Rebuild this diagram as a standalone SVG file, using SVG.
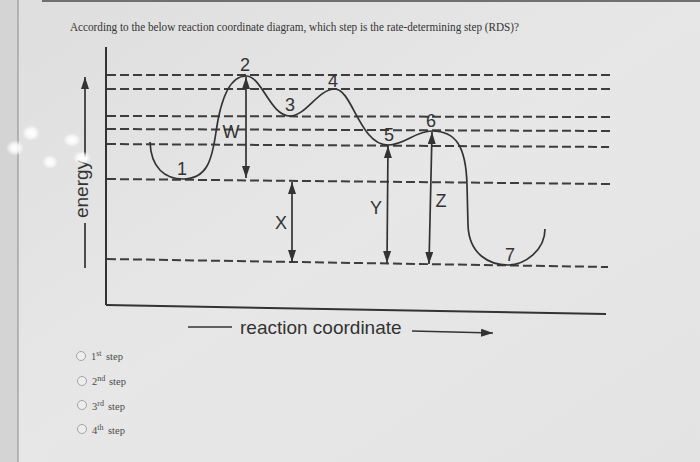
<svg xmlns="http://www.w3.org/2000/svg" width="700" height="462" viewBox="0 0 700 462">
<defs>
<linearGradient id="bg" x1="0" y1="0" x2="1" y2="1">
<stop offset="0" stop-color="#dedede"/>
<stop offset="0.5" stop-color="#e7e7e7"/>
<stop offset="1" stop-color="#e3e3e3"/>
</linearGradient>
<radialGradient id="glare">
<stop offset="0" stop-color="#ffffff" stop-opacity="1"/>
<stop offset="0.5" stop-color="#ffffff" stop-opacity="0.8"/>
<stop offset="1" stop-color="#ffffff" stop-opacity="0"/>
</radialGradient>
<marker id="ah" viewBox="0 0 12 8" refX="12" refY="4" markerWidth="12" markerHeight="8" markerUnits="userSpaceOnUse" orient="auto-start-reverse">
<path d="M0,0 L12,4 L0,8 z" fill="#333"/>
</marker>
<style>
.dash{stroke:#3d3d3d;stroke-width:2;stroke-dasharray:9 4;fill:none}
.ln{stroke:#333;stroke-width:1.7;fill:none}
.lbl{font-family:"Liberation Sans",Arial,sans-serif;font-size:18px;fill:#333;text-anchor:middle}
.opt{font-family:"Liberation Serif","Times New Roman",serif;font-size:10.5px;fill:#4a4a4a}
.sup{font-size:8px}
.radio{fill:#eeeeee;stroke:#a5a5a5;stroke-width:1}
</style>
</defs>
<rect x="0" y="0" width="700" height="462" fill="url(#bg)"/>
<rect x="0" y="0" width="18" height="462" fill="#d4d4d4"/>
<line x1="18" y1="0" x2="18" y2="462" stroke="#8a8a8a" stroke-width="1"/>
<rect x="42" y="0" width="658" height="2" fill="#707070"/>

<text x="70" y="31" font-family="'Liberation Serif','Times New Roman',serif" font-size="12" fill="#333" textLength="449" lengthAdjust="spacingAndGlyphs">According to the below reaction coordinate diagram, which step is the rate-determining step (RDS)?</text>

<g id="frame">
<line x1="106" y1="47" x2="106" y2="305" stroke="#333" stroke-width="2"/>
<line x1="106" y1="305" x2="606" y2="314" stroke="#333" stroke-width="2"/>
</g>

<g id="levels">
<line class="dash" x1="107" y1="75" x2="612" y2="75"/>
<line class="dash" x1="107" y1="89" x2="612" y2="89"/>
<line class="dash" x1="107" y1="116" x2="611" y2="117"/>
<line class="dash" x1="107" y1="129" x2="611" y2="131"/>
<line class="dash" x1="107" y1="144" x2="609" y2="147"/>
<line class="dash" x1="107" y1="179" x2="610" y2="184"/>
<line class="dash" x1="107" y1="259" x2="608" y2="267"/>
</g>

<g id="curve">
<path class="ln" stroke-width="2.1" d="M150,142 C151,168 165,179 183,179 C207,179 212,160 216,132 C220,104 228,76 246,76 C262,76 270,116 290,116 C306,116 318,89 335,89 C352,89 360,145 388,145 C405,145 415,131 432,131 C455,131 466,145 467,185 L468,225 C469,255 490,265 508,265 C525,265 545,250 545,229"/>
</g>

<g id="connectors">
<line class="ln" x1="246" y1="77" x2="246" y2="178" marker-start="url(#ah)" marker-end="url(#ah)"/>
<line class="ln" x1="292" y1="182" x2="292" y2="262" marker-start="url(#ah)" marker-end="url(#ah)"/>
<line class="ln" x1="388" y1="146" x2="387" y2="263" marker-start="url(#ah)" marker-end="url(#ah)"/>
<line class="ln" x1="432" y1="132" x2="429" y2="264" marker-start="url(#ah)" marker-end="url(#ah)"/>
</g>

<g id="point-labels">
<text class="lbl" x="182" y="175">1</text>
<text class="lbl" x="245" y="71">2</text>
<text class="lbl" x="290" y="111">3</text>
<text class="lbl" x="333" y="87">4</text>
<text class="lbl" x="389" y="141">5</text>
<text class="lbl" x="431" y="127">6</text>
<text class="lbl" x="510" y="261">7</text>
</g>

<g id="gap-labels">
<text class="lbl" x="231" y="138">W</text>
<text class="lbl" x="281" y="229">X</text>
<text class="lbl" x="376" y="214">Y</text>
<text class="lbl" x="441" y="207">Z</text>
</g>

<g id="energy-axis">
<line class="ln" x1="85" y1="157" x2="85" y2="77" marker-end="url(#ah)"/>
<line class="ln" x1="85" y1="223" x2="85" y2="268"/>
<text transform="translate(88,189) rotate(-90)" font-family="'Liberation Sans',Arial,sans-serif" font-size="19" fill="#333" text-anchor="middle">energy</text>
</g>

<g id="rc-axis">
<line class="ln" x1="188" y1="327" x2="232" y2="327"/>
<text x="240" y="334" font-family="'Liberation Sans',Arial,sans-serif" font-size="19" fill="#333">reaction coordinate</text>
<line class="ln" x1="412" y1="331" x2="493" y2="333" marker-end="url(#ah)"/>
</g>

<g id="options">
<circle class="radio" cx="81" cy="356" r="4.5"/>
<text class="opt" x="91" y="360">1<tspan class="sup" dy="-4">st</tspan><tspan x="106" dy="4">step</tspan></text>
<circle class="radio" cx="82" cy="381" r="4.5"/>
<text class="opt" x="92" y="385">2<tspan class="sup" dy="-4">nd</tspan><tspan x="109" dy="4">step</tspan></text>
<circle class="radio" cx="82" cy="405" r="4.5"/>
<text class="opt" x="92" y="410">3<tspan class="sup" dy="-4">rd</tspan><tspan x="108" dy="4">step</tspan></text>
<circle class="radio" cx="82" cy="429" r="4.5"/>
<text class="opt" x="92" y="434">4<tspan class="sup" dy="-4">th</tspan><tspan x="108" dy="4">step</tspan></text>
</g>

<g id="glare-spots">
<ellipse cx="31" cy="133" rx="9" ry="8" fill="url(#glare)"/>
<ellipse cx="15" cy="148" rx="9" ry="8" fill="url(#glare)"/>
<ellipse cx="72" cy="140" rx="9" ry="7" fill="url(#glare)"/>
<ellipse cx="50" cy="162" rx="8" ry="7" fill="url(#glare)"/>
<ellipse cx="82" cy="158" rx="9" ry="7" fill="url(#glare)"/>
</g>
</svg>
